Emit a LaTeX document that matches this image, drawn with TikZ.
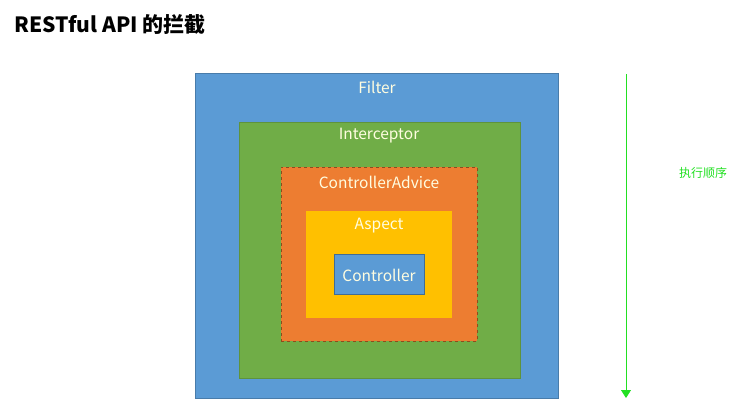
\documentclass[tikz,border=0pt]{standalone}
\usepackage{fontspec}
\setmainfont{Noto Sans CJK SC}
\usetikzlibrary{arrows.meta,positioning}
\definecolor{filterblue}{HTML}{5B9BD5}
\definecolor{interceptgreen}{HTML}{70AD47}
\definecolor{adviceorange}{HTML}{ED7D31}
\definecolor{aspectyellow}{HTML}{FFC000}
\definecolor{ordergreen}{HTML}{22E022}
\begin{document}
\begin{tikzpicture}[x=1pt,y=-1pt,
  layer/.style={rectangle,inner sep=0pt,anchor=north west},
  txt/.style={text=white!88!yellow,font=\fontsize{15.5}{15.5}\selectfont,inner sep=0pt}]
  \useasboundingbox (0,0) rectangle (746,406);
  \node[anchor=west,inner sep=0pt,font=\fontsize{21}{21}\selectfont\bfseries] (title) at (14,25) {RESTful API 的拦截};

  \node[layer,fill=filterblue,draw=filterblue!80!black,minimum width=363pt,minimum height=325pt] (filter) at (195,73) {};
  \node[layer,fill=interceptgreen,draw=interceptgreen!85!black,minimum width=281pt,minimum height=256pt] (interceptor) at (239,122) {};
  \node[layer,fill=adviceorange,draw=adviceorange!60!black,dashed,minimum width=196pt,minimum height=174pt] (advice) at (281,167) {};
  \node[layer,fill=aspectyellow,minimum width=146pt,minimum height=107pt] (aspect) at (306,211) {};
  \node[layer,fill=filterblue,draw=filterblue!70!black,minimum width=90pt,minimum height=40pt] (controller) at (334,254) {};

  \node[txt] (filtertxt) at (377,87) {Filter};
  \node[txt] (interceptortxt) at (379,136) {Interceptor};
  \node[txt] (advicetxt) at (379,182) {ControllerAdvice};
  \node[txt] (aspecttxt) at (379,226) {Aspect};
  \node[txt] (controllertxt) at (379,275) {Controller};

  \coordinate (start) at (626,74);
  \coordinate (stop) at (626,398);
  \draw[ordergreen,thick,-{Triangle[length=8pt,width=10pt]}] (start) -- (stop);
  \node[text=ordergreen,font=\fontsize{12}{12}\selectfont,inner sep=0pt] (order) at (703,173) {执行顺序};
\end{tikzpicture}
\end{document}
